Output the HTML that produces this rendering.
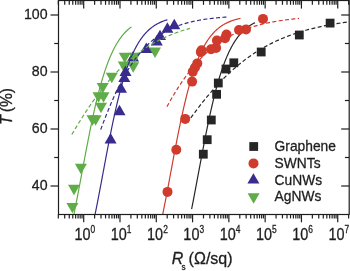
<!DOCTYPE html><html><head><meta charset="utf-8"><style>html,body{margin:0;padding:0;background:#fff;overflow:hidden}svg{display:block;will-change:transform}</style></head><body><svg width="350" height="271" viewBox="0 0 350 271">
<defs><clipPath id="pc"><rect x="58.5" y="0.5" width="290.7" height="214"/></clipPath></defs>
<rect width="350" height="271" fill="#fff"/>
<g clip-path="url(#pc)" fill="none" stroke-width="1.2"><path d="M191.60,209.13 L192.02,207.00 L192.45,204.86 L192.87,202.70 L193.29,200.52 L193.71,198.33 L194.14,196.13 L194.56,193.91 L194.98,191.69 L195.40,189.46 L195.83,187.22 L196.25,184.97 L196.67,182.72 L197.09,180.46 L197.52,178.20 L197.94,175.94 L198.36,173.67 L198.79,171.41 L199.21,169.14 L199.63,166.88 L200.05,164.62 L200.48,162.37 L200.90,160.12 L201.32,157.88 L201.74,155.64 L202.17,153.41 L202.59,151.19 L203.01,148.99 L203.43,146.79 L203.86,144.60 L204.28,142.43 L204.70,140.27 L205.13,138.12 L205.55,135.99 L205.97,133.87 L206.39,131.77 L206.82,129.69 L207.24,127.63 L207.66,125.58 L208.08,123.55 L208.51,121.55 L208.93,119.56 L209.35,117.59 L209.77,115.65 L210.20,113.72 L210.62,111.82 L211.04,109.94 L211.47,108.08 L211.89,106.25 L212.31,104.43 L212.73,102.65 L213.16,100.88 L213.58,99.14 L214.00,97.42 L214.42,95.73 L214.85,94.06 L215.27,92.42 L215.69,90.80 L216.11,89.20 L216.54,87.63 L216.96,86.09 L217.38,84.57 L217.81,83.07 L218.23,81.60 L218.65,80.15 L219.07,78.73 L219.50,77.33 L219.92,75.95 L220.34,74.60 L220.76,73.28 L221.19,71.98 L221.61,70.70 L222.03,69.44 L222.45,68.21 L222.88,67.00 L223.30,65.81 L223.72,64.65 L224.15,63.51 L224.57,62.39 L224.99,61.29 L225.41,60.22 L225.84,59.17 L226.26,58.13 L226.68,57.12 L227.10,56.13 L227.53,55.16 L227.95,54.21 L228.37,53.28 L228.79,52.37 L229.22,51.48 L229.64,50.60 L230.06,49.75 L230.49,48.91 L230.91,48.10 L231.33,47.30 L231.75,46.51 L232.18,45.75 L232.60,45.00 L233.02,44.27 L233.44,43.55 L233.87,42.85 L234.29,42.17 L234.71,41.50 L235.13,40.85 L235.56,40.21 L235.98,39.59 L236.40,38.98 L236.83,38.38 L237.25,37.80 L237.67,37.24 L238.09,36.68 L238.52,36.14 L238.94,35.61 L239.36,35.10 L239.78,34.59 L240.21,34.10 L240.63,33.62 L241.05,33.15 L241.47,32.69 L241.90,32.25 L242.32,31.81 L242.74,31.38 L243.17,30.97 L243.59,30.56 L244.01,30.17 L244.43,29.78 L244.86,29.41 L245.28,29.04 L245.70,28.68 L246.12,28.33 L246.55,27.99 L246.97,27.66 L247.39,27.34 L247.81,27.02 L248.24,26.71 L248.66,26.41 L249.08,26.12 L249.51,25.83 L249.93,25.55 L250.35,25.28 L250.77,25.02 L251.20,24.76 L251.62,24.51 L252.04,24.26 L252.46,24.02 L252.89,23.79 L253.31,23.56 L253.73,23.34 L254.15,23.12 L254.58,22.91 L255.00,22.71" stroke="#262626"/></g>
<g clip-path="url(#pc)" fill="none" stroke-width="1.2" stroke-dasharray="4 2.4"><path d="M190.80,117.94 L191.87,116.45 L192.95,114.97 L194.02,113.50 L195.10,112.04 L196.17,110.60 L197.25,109.17 L198.32,107.75 L199.40,106.35 L200.47,104.96 L201.55,103.58 L202.62,102.22 L203.70,100.87 L204.77,99.54 L205.85,98.22 L206.92,96.91 L207.99,95.62 L209.07,94.34 L210.14,93.08 L211.22,91.83 L212.29,90.59 L213.37,89.37 L214.44,88.17 L215.52,86.97 L216.59,85.80 L217.67,84.64 L218.74,83.49 L219.82,82.35 L220.89,81.23 L221.97,80.13 L223.04,79.04 L224.11,77.96 L225.19,76.90 L226.26,75.85 L227.34,74.82 L228.41,73.80 L229.49,72.79 L230.56,71.80 L231.64,70.82 L232.71,69.85 L233.79,68.90 L234.86,67.97 L235.94,67.04 L237.01,66.13 L238.09,65.24 L239.16,64.35 L240.23,63.48 L241.31,62.62 L242.38,61.78 L243.46,60.95 L244.53,60.13 L245.61,59.32 L246.68,58.53 L247.76,57.74 L248.83,56.97 L249.91,56.22 L250.98,55.47 L252.06,54.74 L253.13,54.01 L254.21,53.30 L255.28,52.60 L256.35,51.92 L257.43,51.24 L258.50,50.57 L259.58,49.92 L260.65,49.27 L261.73,48.64 L262.80,48.02 L263.88,47.41 L264.95,46.80 L266.03,46.21 L267.10,45.63 L268.18,45.06 L269.25,44.49 L270.33,43.94 L271.40,43.40 L272.47,42.86 L273.55,42.34 L274.62,41.82 L275.70,41.32 L276.77,40.82 L277.85,40.33 L278.92,39.85 L280.00,39.38 L281.07,38.91 L282.15,38.46 L283.22,38.01 L284.30,37.57 L285.37,37.14 L286.45,36.72 L287.52,36.30 L288.59,35.89 L289.67,35.49 L290.74,35.10 L291.82,34.71 L292.89,34.33 L293.97,33.96 L295.04,33.59 L296.12,33.23 L297.19,32.88 L298.27,32.53 L299.34,32.19 L300.42,31.86 L301.49,31.53 L302.57,31.21 L303.64,30.90 L304.71,30.59 L305.79,30.28 L306.86,29.98 L307.94,29.69 L309.01,29.40 L310.09,29.12 L311.16,28.85 L312.24,28.58 L313.31,28.31 L314.39,28.05 L315.46,27.79 L316.54,27.54 L317.61,27.29 L318.69,27.05 L319.76,26.82 L320.83,26.58 L321.91,26.35 L322.98,26.13 L324.06,25.91 L325.13,25.70 L326.21,25.48 L327.28,25.28 L328.36,25.07 L329.43,24.87 L330.51,24.68 L331.58,24.49 L332.66,24.30 L333.73,24.12 L334.81,23.93 L335.88,23.76 L336.95,23.58 L338.03,23.41 L339.10,23.25 L340.18,23.08 L341.25,22.92 L342.33,22.76 L343.40,22.61 L344.48,22.46 L345.55,22.31 L346.63,22.16 L347.70,22.02 L348.78,21.88 L349.85,21.74 L350.93,21.61 L352.00,21.48" stroke="#262626"/></g>
<g fill="#262626"><rect x="325.70" y="18.70" width="8.8" height="8.8"/><rect x="294.90" y="30.60" width="8.8" height="8.8"/><rect x="256.80" y="47.60" width="8.8" height="8.8"/><rect x="229.40" y="58.40" width="8.8" height="8.8"/><rect x="221.60" y="64.60" width="8.8" height="8.8"/><rect x="213.90" y="78.60" width="8.8" height="8.8"/><rect x="212.20" y="89.90" width="8.8" height="8.8"/><rect x="206.90" y="115.60" width="8.8" height="8.8"/><rect x="202.80" y="135.30" width="8.8" height="8.8"/><rect x="198.90" y="149.80" width="8.8" height="8.8"/></g>
<g fill="#cf3b2c"><circle cx="263" cy="18.9" r="5"/><circle cx="246" cy="29.4" r="5"/><circle cx="239" cy="30" r="5"/><circle cx="226.5" cy="34.6" r="5"/><circle cx="225" cy="38.3" r="5"/><circle cx="216.9" cy="40.5" r="5"/><circle cx="216.1" cy="47.9" r="5"/><circle cx="211" cy="49.3" r="5"/><circle cx="201.6" cy="50.2" r="5"/><circle cx="200.8" cy="52.1" r="5"/><circle cx="197.3" cy="63.4" r="5"/><circle cx="195" cy="67.5" r="5"/><circle cx="192.8" cy="71.6" r="5"/><circle cx="192.1" cy="81.6" r="5"/><circle cx="185.2" cy="118.9" r="5"/><circle cx="176.3" cy="149.8" r="5"/><circle cx="167.5" cy="191.9" r="5"/></g>
<path d="M127.00,61.46 L139.00,61.46 L133.00,51.07 Z" fill="#382c8c"/>
<g fill="#60ac48"><path d="M149.00,47.54 L161.00,47.54 L155.00,57.93 Z"/><path d="M128.60,52.84 L140.60,52.84 L134.60,63.23 Z"/><path d="M118.80,52.84 L130.80,52.84 L124.80,63.23 Z"/><path d="M117.80,61.54 L129.80,61.54 L123.80,71.93 Z"/><path d="M127.20,62.34 L139.20,62.34 L133.20,72.73 Z"/><path d="M105.80,72.84 L117.80,72.84 L111.80,83.23 Z"/><path d="M96.70,83.04 L108.70,83.04 L102.70,93.43 Z"/><path d="M92.50,92.24 L104.50,92.24 L98.50,102.63 Z"/><path d="M97.50,92.24 L109.50,92.24 L103.50,102.63 Z"/><path d="M95.00,102.74 L107.00,102.74 L101.00,113.13 Z"/><path d="M86.50,115.34 L98.50,115.34 L92.50,125.73 Z"/><path d="M89.60,115.34 L101.60,115.34 L95.60,125.73 Z"/><path d="M74.90,163.84 L86.90,163.84 L80.90,174.23 Z"/><path d="M68.00,184.84 L80.00,184.84 L74.00,195.23 Z"/><path d="M66.40,202.94 L78.40,202.94 L72.40,213.33 Z"/></g>
<g fill="#382c8c"><path d="M168.30,29.16 L180.30,29.16 L174.30,18.77 Z"/><path d="M161.40,32.66 L173.40,32.66 L167.40,22.27 Z"/><path d="M154.00,40.06 L166.00,40.06 L160.00,29.67 Z"/><path d="M150.80,45.46 L162.80,45.46 L156.80,35.07 Z"/><path d="M140.30,52.96 L152.30,52.96 L146.30,42.57 Z"/><path d="M119.50,75.96 L131.50,75.96 L125.50,65.57 Z"/><path d="M118.30,82.06 L130.30,82.06 L124.30,71.67 Z"/><path d="M115.00,92.76 L127.00,92.76 L121.00,82.37 Z"/><path d="M113.50,115.26 L125.50,115.26 L119.50,104.87 Z"/><path d="M104.60,143.46 L116.60,143.46 L110.60,133.07 Z"/></g>
<g clip-path="url(#pc)" fill="none" stroke-width="1.2"><path d="M155.00,248.17 L155.57,246.00 L156.14,243.76 L156.71,241.48 L157.28,239.13 L157.85,236.74 L158.42,234.29 L158.99,231.80 L159.56,229.26 L160.13,226.66 L160.70,224.03 L161.27,221.35 L161.84,218.63 L162.41,215.87 L162.98,213.07 L163.55,210.24 L164.12,207.37 L164.69,204.48 L165.26,201.56 L165.83,198.61 L166.40,195.64 L166.97,192.65 L167.54,189.64 L168.11,186.62 L168.68,183.58 L169.25,180.54 L169.82,177.49 L170.39,174.44 L170.96,171.38 L171.53,168.33 L172.10,165.28 L172.67,162.24 L173.24,159.21 L173.81,156.19 L174.38,153.19 L174.95,150.20 L175.52,147.23 L176.09,144.28 L176.66,141.35 L177.23,138.45 L177.80,135.58 L178.37,132.73 L178.94,129.92 L179.51,127.14 L180.08,124.39 L180.65,121.67 L181.22,119.00 L181.79,116.36 L182.36,113.76 L182.93,111.20 L183.50,108.67 L184.07,106.20 L184.64,103.76 L185.21,101.36 L185.78,99.01 L186.35,96.70 L186.92,94.44 L187.49,92.22 L188.06,90.05 L188.63,87.92 L189.20,85.83 L189.77,83.79 L190.34,81.80 L190.91,79.85 L191.48,77.94 L192.05,76.08 L192.62,74.26 L193.19,72.49 L193.76,70.76 L194.33,69.07 L194.90,67.42 L195.47,65.81 L196.04,64.25 L196.61,62.73 L197.18,61.25 L197.75,59.80 L198.32,58.40 L198.89,57.03 L199.46,55.70 L200.03,54.41 L200.60,53.15 L201.17,51.93 L201.74,50.75 L202.31,49.60 L202.88,48.48 L203.45,47.39 L204.02,46.34 L204.59,45.32 L205.16,44.32 L205.73,43.36 L206.30,42.43 L206.87,41.52 L207.44,40.64 L208.01,39.79 L208.58,38.97 L209.15,38.17 L209.72,37.40 L210.29,36.65 L210.86,35.92 L211.43,35.22 L212.00,34.54 L212.57,33.88 L213.14,33.24 L213.71,32.62 L214.28,32.03 L214.85,31.45 L215.42,30.89 L215.99,30.35 L216.56,29.82 L217.13,29.32 L217.70,28.83 L218.27,28.35 L218.84,27.89 L219.41,27.45 L219.98,27.02 L220.55,26.61 L221.12,26.21 L221.69,25.82 L222.26,25.45 L222.83,25.09 L223.40,24.74 L223.97,24.40 L224.54,24.08 L225.11,23.76 L225.68,23.46 L226.25,23.16 L226.82,22.88 L227.39,22.60 L227.96,22.34 L228.53,22.08 L229.10,21.84 L229.67,21.60 L230.24,21.37 L230.81,21.14 L231.38,20.93 L231.95,20.72 L232.52,20.52 L233.09,20.33 L233.66,20.14 L234.23,19.96 L234.80,19.79 L235.37,19.62 L235.94,19.46 L236.51,19.30 L237.08,19.15 L237.65,19.00 L238.22,18.86 L238.79,18.73 L239.36,18.60 L239.93,18.47 L240.50,18.35" stroke="#cf3b2c"/></g>
<g clip-path="url(#pc)" fill="none" stroke-width="1.2" stroke-dasharray="4 2.4"><path d="M167.00,106.62 L167.88,105.01 L168.76,103.42 L169.64,101.85 L170.52,100.30 L171.40,98.77 L172.28,97.25 L173.16,95.75 L174.04,94.28 L174.92,92.82 L175.80,91.38 L176.68,89.96 L177.56,88.56 L178.44,87.18 L179.32,85.82 L180.20,84.47 L181.08,83.15 L181.96,81.85 L182.84,80.56 L183.72,79.30 L184.60,78.05 L185.48,76.82 L186.36,75.61 L187.24,74.42 L188.12,73.25 L189.00,72.10 L189.88,70.96 L190.76,69.85 L191.64,68.75 L192.52,67.67 L193.40,66.61 L194.28,65.57 L195.16,64.54 L196.04,63.53 L196.92,62.54 L197.80,61.57 L198.68,60.61 L199.56,59.67 L200.44,58.75 L201.32,57.84 L202.20,56.95 L203.08,56.08 L203.96,55.22 L204.84,54.37 L205.72,53.55 L206.60,52.74 L207.48,51.94 L208.36,51.16 L209.24,50.39 L210.12,49.64 L211.00,48.90 L211.88,48.18 L212.76,47.47 L213.64,46.77 L214.52,46.09 L215.40,45.42 L216.28,44.76 L217.16,44.12 L218.04,43.49 L218.92,42.87 L219.80,42.27 L220.68,41.67 L221.56,41.09 L222.44,40.52 L223.32,39.96 L224.20,39.42 L225.08,38.88 L225.96,38.35 L226.84,37.84 L227.72,37.34 L228.60,36.84 L229.48,36.36 L230.36,35.89 L231.24,35.43 L232.12,34.97 L233.00,34.53 L233.88,34.09 L234.76,33.67 L235.64,33.25 L236.52,32.84 L237.40,32.45 L238.28,32.06 L239.16,31.67 L240.04,31.30 L240.92,30.93 L241.80,30.58 L242.68,30.23 L243.56,29.88 L244.44,29.55 L245.32,29.22 L246.20,28.90 L247.08,28.58 L247.96,28.28 L248.84,27.98 L249.72,27.68 L250.60,27.39 L251.48,27.11 L252.36,26.84 L253.24,26.57 L254.12,26.31 L255.00,26.05 L255.88,25.80 L256.76,25.55 L257.64,25.31 L258.52,25.08 L259.40,24.85 L260.28,24.62 L261.16,24.40 L262.04,24.19 L262.92,23.98 L263.80,23.77 L264.68,23.57 L265.56,23.37 L266.44,23.18 L267.32,22.99 L268.20,22.81 L269.08,22.63 L269.96,22.45 L270.84,22.28 L271.72,22.12 L272.60,21.95 L273.48,21.79 L274.36,21.64 L275.24,21.48 L276.12,21.33 L277.00,21.19 L277.88,21.04 L278.76,20.91 L279.64,20.77 L280.52,20.64 L281.40,20.51 L282.28,20.38 L283.16,20.25 L284.04,20.13 L284.92,20.01 L285.80,19.90 L286.68,19.78 L287.56,19.67 L288.44,19.57 L289.32,19.46 L290.20,19.36 L291.08,19.26 L291.96,19.16 L292.84,19.06 L293.72,18.97 L294.60,18.87 L295.48,18.78 L296.36,18.70 L297.24,18.61 L298.12,18.53 L299.00,18.44" stroke="#cf3b2c"/></g>
<g clip-path="url(#pc)" fill="none" stroke-width="1.2"><path d="M85.00,256.64 L85.55,254.77 L86.10,252.85 L86.65,250.87 L87.20,248.84 L87.75,246.76 L88.30,244.63 L88.85,242.44 L89.39,240.21 L89.94,237.92 L90.49,235.59 L91.04,233.21 L91.59,230.79 L92.14,228.32 L92.69,225.81 L93.24,223.25 L93.79,220.66 L94.34,218.03 L94.89,215.36 L95.44,212.66 L95.99,209.93 L96.54,207.16 L97.09,204.37 L97.63,201.55 L98.18,198.71 L98.73,195.85 L99.28,192.97 L99.83,190.08 L100.38,187.16 L100.93,184.24 L101.48,181.31 L102.03,178.37 L102.58,175.43 L103.13,172.49 L103.68,169.55 L104.23,166.61 L104.78,163.67 L105.33,160.75 L105.87,157.83 L106.42,154.93 L106.97,152.04 L107.52,149.16 L108.07,146.31 L108.62,143.47 L109.17,140.66 L109.72,137.87 L110.27,135.10 L110.82,132.36 L111.37,129.66 L111.92,126.98 L112.47,124.33 L113.02,121.71 L113.57,119.13 L114.11,116.59 L114.66,114.08 L115.21,111.60 L115.76,109.17 L116.31,106.77 L116.86,104.41 L117.41,102.09 L117.96,99.81 L118.51,97.57 L119.06,95.37 L119.61,93.22 L120.16,91.10 L120.71,89.03 L121.26,86.99 L121.81,85.00 L122.35,83.05 L122.90,81.14 L123.45,79.28 L124.00,77.45 L124.55,75.67 L125.10,73.93 L125.65,72.22 L126.20,70.56 L126.75,68.93 L127.30,67.35 L127.85,65.80 L128.40,64.30 L128.95,62.83 L129.50,61.40 L130.05,60.00 L130.59,58.64 L131.14,57.32 L131.69,56.03 L132.24,54.77 L132.79,53.55 L133.34,52.36 L133.89,51.21 L134.44,50.09 L134.99,48.99 L135.54,47.93 L136.09,46.90 L136.64,45.90 L137.19,44.92 L137.74,43.98 L138.29,43.06 L138.83,42.17 L139.38,41.30 L139.93,40.46 L140.48,39.65 L141.03,38.86 L141.58,38.09 L142.13,37.35 L142.68,36.63 L143.23,35.93 L143.78,35.25 L144.33,34.59 L144.88,33.95 L145.43,33.34 L145.98,32.74 L146.53,32.16 L147.07,31.60 L147.62,31.05 L148.17,30.53 L148.72,30.01 L149.27,29.52 L149.82,29.04 L150.37,28.58 L150.92,28.13 L151.47,27.69 L152.02,27.27 L152.57,26.87 L153.12,26.47 L153.67,26.09 L154.22,25.72 L154.77,25.36 L155.31,25.02 L155.86,24.68 L156.41,24.36 L156.96,24.05 L157.51,23.75 L158.06,23.45 L158.61,23.17 L159.16,22.90 L159.71,22.63 L160.26,22.37 L160.81,22.13 L161.36,21.89 L161.91,21.65 L162.46,21.43 L163.01,21.21 L163.55,21.00 L164.10,20.80 L164.65,20.61 L165.20,20.42 L165.75,20.23 L166.30,20.06 L166.85,19.89 L167.40,19.72" stroke="#382c8c"/></g>
<g clip-path="url(#pc)" fill="none" stroke-width="1.2" stroke-dasharray="4 2.4"><path d="M100.70,129.63 L101.55,127.34 L102.40,125.08 L103.25,122.84 L104.09,120.62 L104.94,118.43 L105.79,116.26 L106.64,114.13 L107.49,112.01 L108.34,109.93 L109.19,107.87 L110.04,105.84 L110.88,103.84 L111.73,101.87 L112.58,99.92 L113.43,98.01 L114.28,96.13 L115.13,94.27 L115.98,92.45 L116.82,90.65 L117.67,88.89 L118.52,87.16 L119.37,85.45 L120.22,83.78 L121.07,82.14 L121.92,80.52 L122.77,78.94 L123.61,77.39 L124.46,75.87 L125.31,74.37 L126.16,72.91 L127.01,71.47 L127.86,70.07 L128.71,68.69 L129.55,67.34 L130.40,66.02 L131.25,64.73 L132.10,63.46 L132.95,62.23 L133.80,61.02 L134.65,59.83 L135.50,58.67 L136.34,57.54 L137.19,56.44 L138.04,55.35 L138.89,54.30 L139.74,53.27 L140.59,52.26 L141.44,51.27 L142.28,50.31 L143.13,49.37 L143.98,48.46 L144.83,47.56 L145.68,46.69 L146.53,45.84 L147.38,45.01 L148.23,44.20 L149.07,43.41 L149.92,42.64 L150.77,41.89 L151.62,41.15 L152.47,40.44 L153.32,39.74 L154.17,39.07 L155.01,38.41 L155.86,37.76 L156.71,37.13 L157.56,36.52 L158.41,35.93 L159.26,35.35 L160.11,34.78 L160.96,34.23 L161.80,33.70 L162.65,33.18 L163.50,32.67 L164.35,32.18 L165.20,31.70 L166.05,31.23 L166.90,30.77 L167.74,30.33 L168.59,29.90 L169.44,29.48 L170.29,29.07 L171.14,28.67 L171.99,28.29 L172.84,27.91 L173.69,27.55 L174.53,27.19 L175.38,26.84 L176.23,26.51 L177.08,26.18 L177.93,25.86 L178.78,25.55 L179.63,25.25 L180.47,24.96 L181.32,24.68 L182.17,24.40 L183.02,24.13 L183.87,23.87 L184.72,23.62 L185.57,23.37 L186.42,23.13 L187.26,22.90 L188.11,22.67 L188.96,22.45 L189.81,22.24 L190.66,22.03 L191.51,21.83 L192.36,21.63 L193.20,21.44 L194.05,21.25 L194.90,21.07 L195.75,20.90 L196.60,20.73 L197.45,20.56 L198.30,20.40 L199.15,20.25 L199.99,20.09 L200.84,19.95 L201.69,19.80 L202.54,19.66 L203.39,19.53 L204.24,19.40 L205.09,19.27 L205.93,19.15 L206.78,19.03 L207.63,18.91 L208.48,18.80 L209.33,18.69 L210.18,18.58 L211.03,18.48 L211.88,18.38 L212.72,18.28 L213.57,18.18 L214.42,18.09 L215.27,18.00 L216.12,17.91 L216.97,17.83 L217.82,17.75 L218.66,17.67 L219.51,17.59 L220.36,17.51 L221.21,17.44 L222.06,17.37 L222.91,17.30 L223.76,17.23 L224.61,17.17 L225.45,17.11 L226.30,17.04 L227.15,16.98 L228.00,16.93" stroke="#382c8c"/></g>
<g clip-path="url(#pc)" fill="none" stroke-width="1.2"><path d="M55.00,279.63 L55.51,278.64 L56.02,277.62 L56.53,276.56 L57.04,275.46 L57.55,274.32 L58.06,273.14 L58.57,271.91 L59.07,270.65 L59.58,269.34 L60.09,267.98 L60.60,266.58 L61.11,265.14 L61.62,263.65 L62.13,262.12 L62.64,260.54 L63.15,258.92 L63.66,257.25 L64.17,255.53 L64.68,253.77 L65.19,251.96 L65.70,250.11 L66.21,248.21 L66.71,246.27 L67.22,244.28 L67.73,242.25 L68.24,240.18 L68.75,238.06 L69.26,235.90 L69.77,233.70 L70.28,231.47 L70.79,229.19 L71.30,226.88 L71.81,224.53 L72.32,222.14 L72.83,219.72 L73.34,217.27 L73.85,214.79 L74.35,212.28 L74.86,209.74 L75.37,207.18 L75.88,204.59 L76.39,201.98 L76.90,199.35 L77.41,196.70 L77.92,194.04 L78.43,191.36 L78.94,188.67 L79.45,185.96 L79.96,183.25 L80.47,180.53 L80.98,177.81 L81.49,175.08 L81.99,172.35 L82.50,169.62 L83.01,166.90 L83.52,164.18 L84.03,161.46 L84.54,158.75 L85.05,156.06 L85.56,153.37 L86.07,150.70 L86.58,148.04 L87.09,145.40 L87.60,142.77 L88.11,140.17 L88.62,137.59 L89.13,135.02 L89.63,132.49 L90.14,129.97 L90.65,127.48 L91.16,125.02 L91.67,122.59 L92.18,120.18 L92.69,117.81 L93.20,115.46 L93.71,113.15 L94.22,110.87 L94.73,108.62 L95.24,106.40 L95.75,104.22 L96.26,102.07 L96.77,99.95 L97.27,97.87 L97.78,95.83 L98.29,93.82 L98.80,91.85 L99.31,89.91 L99.82,88.01 L100.33,86.14 L100.84,84.31 L101.35,82.51 L101.86,80.75 L102.37,79.03 L102.88,77.34 L103.39,75.69 L103.90,74.07 L104.41,72.49 L104.91,70.94 L105.42,69.42 L105.93,67.94 L106.44,66.49 L106.95,65.08 L107.46,63.69 L107.97,62.34 L108.48,61.03 L108.99,59.74 L109.50,58.49 L110.01,57.26 L110.52,56.07 L111.03,54.90 L111.54,53.76 L112.05,52.66 L112.55,51.58 L113.06,50.52 L113.57,49.50 L114.08,48.50 L114.59,47.53 L115.10,46.58 L115.61,45.66 L116.12,44.76 L116.63,43.89 L117.14,43.04 L117.65,42.21 L118.16,41.41 L118.67,40.63 L119.18,39.87 L119.69,39.13 L120.19,38.41 L120.70,37.71 L121.21,37.03 L121.72,36.37 L122.23,35.73 L122.74,35.10 L123.25,34.50 L123.76,33.91 L124.27,33.33 L124.78,32.78 L125.29,32.24 L125.80,31.72 L126.31,31.21 L126.82,30.71 L127.33,30.23 L127.83,29.77 L128.34,29.32 L128.85,28.88 L129.36,28.45 L129.87,28.04 L130.38,27.64 L130.89,27.25 L131.40,26.87" stroke="#60ac48"/></g>
<g clip-path="url(#pc)" fill="none" stroke-width="1.2" stroke-dasharray="4 2.4"><path d="M71.80,134.52 L72.59,133.19 L73.37,131.86 L74.16,130.53 L74.95,129.22 L75.74,127.91 L76.52,126.61 L77.31,125.31 L78.10,124.03 L78.89,122.75 L79.67,121.48 L80.46,120.21 L81.25,118.96 L82.04,117.71 L82.82,116.48 L83.61,115.25 L84.40,114.03 L85.18,112.82 L85.97,111.61 L86.76,110.42 L87.55,109.23 L88.33,108.06 L89.12,106.89 L89.91,105.73 L90.70,104.59 L91.48,103.45 L92.27,102.32 L93.06,101.20 L93.85,100.09 L94.63,98.99 L95.42,97.90 L96.21,96.82 L96.99,95.75 L97.78,94.69 L98.57,93.64 L99.36,92.59 L100.14,91.56 L100.93,90.54 L101.72,89.53 L102.51,88.53 L103.29,87.53 L104.08,86.55 L104.87,85.58 L105.66,84.62 L106.44,83.66 L107.23,82.72 L108.02,81.79 L108.80,80.87 L109.59,79.95 L110.38,79.05 L111.17,78.16 L111.95,77.27 L112.74,76.40 L113.53,75.53 L114.32,74.68 L115.10,73.84 L115.89,73.00 L116.68,72.17 L117.47,71.36 L118.25,70.55 L119.04,69.75 L119.83,68.97 L120.61,68.19 L121.40,67.42 L122.19,66.66 L122.98,65.91 L123.76,65.17 L124.55,64.43 L125.34,63.71 L126.13,63.00 L126.91,62.29 L127.70,61.59 L128.49,60.90 L129.28,60.22 L130.06,59.55 L130.85,58.89 L131.64,58.24 L132.42,57.59 L133.21,56.96 L134.00,56.33 L134.79,55.71 L135.57,55.09 L136.36,54.49 L137.15,53.89 L137.94,53.31 L138.72,52.73 L139.51,52.15 L140.30,51.59 L141.09,51.03 L141.87,50.48 L142.66,49.94 L143.45,49.40 L144.23,48.88 L145.02,48.36 L145.81,47.84 L146.60,47.34 L147.38,46.84 L148.17,46.35 L148.96,45.86 L149.75,45.38 L150.53,44.91 L151.32,44.45 L152.11,43.99 L152.90,43.54 L153.68,43.09 L154.47,42.65 L155.26,42.22 L156.04,41.80 L156.83,41.38 L157.62,40.96 L158.41,40.55 L159.19,40.15 L159.98,39.75 L160.77,39.36 L161.56,38.98 L162.34,38.60 L163.13,38.23 L163.92,37.86 L164.71,37.50 L165.49,37.14 L166.28,36.79 L167.07,36.44 L167.85,36.10 L168.64,35.76 L169.43,35.43 L170.22,35.11 L171.00,34.79 L171.79,34.47 L172.58,34.16 L173.37,33.85 L174.15,33.55 L174.94,33.25 L175.73,32.96 L176.52,32.67 L177.30,32.39 L178.09,32.11 L178.88,31.83 L179.66,31.56 L180.45,31.29 L181.24,31.03 L182.03,30.77 L182.81,30.51 L183.60,30.26 L184.39,30.02 L185.18,29.77 L185.96,29.53 L186.75,29.30 L187.54,29.06 L188.33,28.84 L189.11,28.61 L189.90,28.39" stroke="#60ac48"/></g>
<g stroke="#1e1e1e" stroke-width="1.2"><rect x="58.5" y="0.5" width="290.7" height="214" fill="none" stroke-width="1.2"/><line x1="50.5" y1="186.0" x2="58.5" y2="186.0"/><line x1="341.2" y1="186.0" x2="349.2" y2="186.0"/><line x1="54.2" y1="157.5" x2="58.5" y2="157.5"/><line x1="344.9" y1="157.5" x2="349.2" y2="157.5"/><line x1="50.5" y1="129.0" x2="58.5" y2="129.0"/><line x1="341.2" y1="129.0" x2="349.2" y2="129.0"/><line x1="54.2" y1="100.5" x2="58.5" y2="100.5"/><line x1="344.9" y1="100.5" x2="349.2" y2="100.5"/><line x1="50.5" y1="72.0" x2="58.5" y2="72.0"/><line x1="341.2" y1="72.0" x2="349.2" y2="72.0"/><line x1="54.2" y1="43.5" x2="58.5" y2="43.5"/><line x1="344.9" y1="43.5" x2="349.2" y2="43.5"/><line x1="50.5" y1="15.0" x2="58.5" y2="15.0"/><line x1="341.2" y1="15.0" x2="349.2" y2="15.0"/><line x1="58.33" y1="214.5" x2="58.33" y2="218.4"/><line x1="58.33" y1="0.5" x2="58.33" y2="4.8"/><line x1="64.72" y1="214.5" x2="64.72" y2="218.4"/><line x1="64.72" y1="0.5" x2="64.72" y2="4.8"/><line x1="69.26" y1="214.5" x2="69.26" y2="218.4"/><line x1="69.26" y1="0.5" x2="69.26" y2="4.8"/><line x1="72.78" y1="214.5" x2="72.78" y2="218.4"/><line x1="72.78" y1="0.5" x2="72.78" y2="4.8"/><line x1="75.65" y1="214.5" x2="75.65" y2="218.4"/><line x1="75.65" y1="0.5" x2="75.65" y2="4.8"/><line x1="78.08" y1="214.5" x2="78.08" y2="218.4"/><line x1="78.08" y1="0.5" x2="78.08" y2="4.8"/><line x1="80.18" y1="214.5" x2="80.18" y2="218.4"/><line x1="80.18" y1="0.5" x2="80.18" y2="4.8"/><line x1="82.04" y1="214.5" x2="82.04" y2="218.4"/><line x1="82.04" y1="0.5" x2="82.04" y2="4.8"/><line x1="83.70" y1="214.5" x2="83.70" y2="222.3"/><line x1="83.70" y1="0.5" x2="83.70" y2="8.6"/><line x1="94.62" y1="214.5" x2="94.62" y2="218.4"/><line x1="94.62" y1="0.5" x2="94.62" y2="4.8"/><line x1="101.01" y1="214.5" x2="101.01" y2="218.4"/><line x1="101.01" y1="0.5" x2="101.01" y2="4.8"/><line x1="105.55" y1="214.5" x2="105.55" y2="218.4"/><line x1="105.55" y1="0.5" x2="105.55" y2="4.8"/><line x1="109.07" y1="214.5" x2="109.07" y2="218.4"/><line x1="109.07" y1="0.5" x2="109.07" y2="4.8"/><line x1="111.94" y1="214.5" x2="111.94" y2="218.4"/><line x1="111.94" y1="0.5" x2="111.94" y2="4.8"/><line x1="114.37" y1="214.5" x2="114.37" y2="218.4"/><line x1="114.37" y1="0.5" x2="114.37" y2="4.8"/><line x1="116.47" y1="214.5" x2="116.47" y2="218.4"/><line x1="116.47" y1="0.5" x2="116.47" y2="4.8"/><line x1="118.33" y1="214.5" x2="118.33" y2="218.4"/><line x1="118.33" y1="0.5" x2="118.33" y2="4.8"/><line x1="119.99" y1="214.5" x2="119.99" y2="222.3"/><line x1="119.99" y1="0.5" x2="119.99" y2="8.6"/><line x1="130.91" y1="214.5" x2="130.91" y2="218.4"/><line x1="130.91" y1="0.5" x2="130.91" y2="4.8"/><line x1="137.30" y1="214.5" x2="137.30" y2="218.4"/><line x1="137.30" y1="0.5" x2="137.30" y2="4.8"/><line x1="141.84" y1="214.5" x2="141.84" y2="218.4"/><line x1="141.84" y1="0.5" x2="141.84" y2="4.8"/><line x1="145.36" y1="214.5" x2="145.36" y2="218.4"/><line x1="145.36" y1="0.5" x2="145.36" y2="4.8"/><line x1="148.23" y1="214.5" x2="148.23" y2="218.4"/><line x1="148.23" y1="0.5" x2="148.23" y2="4.8"/><line x1="150.66" y1="214.5" x2="150.66" y2="218.4"/><line x1="150.66" y1="0.5" x2="150.66" y2="4.8"/><line x1="152.76" y1="214.5" x2="152.76" y2="218.4"/><line x1="152.76" y1="0.5" x2="152.76" y2="4.8"/><line x1="154.62" y1="214.5" x2="154.62" y2="218.4"/><line x1="154.62" y1="0.5" x2="154.62" y2="4.8"/><line x1="156.28" y1="214.5" x2="156.28" y2="222.3"/><line x1="156.28" y1="0.5" x2="156.28" y2="8.6"/><line x1="167.20" y1="214.5" x2="167.20" y2="218.4"/><line x1="167.20" y1="0.5" x2="167.20" y2="4.8"/><line x1="173.59" y1="214.5" x2="173.59" y2="218.4"/><line x1="173.59" y1="0.5" x2="173.59" y2="4.8"/><line x1="178.13" y1="214.5" x2="178.13" y2="218.4"/><line x1="178.13" y1="0.5" x2="178.13" y2="4.8"/><line x1="181.65" y1="214.5" x2="181.65" y2="218.4"/><line x1="181.65" y1="0.5" x2="181.65" y2="4.8"/><line x1="184.52" y1="214.5" x2="184.52" y2="218.4"/><line x1="184.52" y1="0.5" x2="184.52" y2="4.8"/><line x1="186.95" y1="214.5" x2="186.95" y2="218.4"/><line x1="186.95" y1="0.5" x2="186.95" y2="4.8"/><line x1="189.05" y1="214.5" x2="189.05" y2="218.4"/><line x1="189.05" y1="0.5" x2="189.05" y2="4.8"/><line x1="190.91" y1="214.5" x2="190.91" y2="218.4"/><line x1="190.91" y1="0.5" x2="190.91" y2="4.8"/><line x1="192.57" y1="214.5" x2="192.57" y2="222.3"/><line x1="192.57" y1="0.5" x2="192.57" y2="8.6"/><line x1="203.49" y1="214.5" x2="203.49" y2="218.4"/><line x1="203.49" y1="0.5" x2="203.49" y2="4.8"/><line x1="209.88" y1="214.5" x2="209.88" y2="218.4"/><line x1="209.88" y1="0.5" x2="209.88" y2="4.8"/><line x1="214.42" y1="214.5" x2="214.42" y2="218.4"/><line x1="214.42" y1="0.5" x2="214.42" y2="4.8"/><line x1="217.94" y1="214.5" x2="217.94" y2="218.4"/><line x1="217.94" y1="0.5" x2="217.94" y2="4.8"/><line x1="220.81" y1="214.5" x2="220.81" y2="218.4"/><line x1="220.81" y1="0.5" x2="220.81" y2="4.8"/><line x1="223.24" y1="214.5" x2="223.24" y2="218.4"/><line x1="223.24" y1="0.5" x2="223.24" y2="4.8"/><line x1="225.34" y1="214.5" x2="225.34" y2="218.4"/><line x1="225.34" y1="0.5" x2="225.34" y2="4.8"/><line x1="227.20" y1="214.5" x2="227.20" y2="218.4"/><line x1="227.20" y1="0.5" x2="227.20" y2="4.8"/><line x1="228.86" y1="214.5" x2="228.86" y2="222.3"/><line x1="228.86" y1="0.5" x2="228.86" y2="8.6"/><line x1="239.78" y1="214.5" x2="239.78" y2="218.4"/><line x1="239.78" y1="0.5" x2="239.78" y2="4.8"/><line x1="246.17" y1="214.5" x2="246.17" y2="218.4"/><line x1="246.17" y1="0.5" x2="246.17" y2="4.8"/><line x1="250.71" y1="214.5" x2="250.71" y2="218.4"/><line x1="250.71" y1="0.5" x2="250.71" y2="4.8"/><line x1="254.23" y1="214.5" x2="254.23" y2="218.4"/><line x1="254.23" y1="0.5" x2="254.23" y2="4.8"/><line x1="257.10" y1="214.5" x2="257.10" y2="218.4"/><line x1="257.10" y1="0.5" x2="257.10" y2="4.8"/><line x1="259.53" y1="214.5" x2="259.53" y2="218.4"/><line x1="259.53" y1="0.5" x2="259.53" y2="4.8"/><line x1="261.63" y1="214.5" x2="261.63" y2="218.4"/><line x1="261.63" y1="0.5" x2="261.63" y2="4.8"/><line x1="263.49" y1="214.5" x2="263.49" y2="218.4"/><line x1="263.49" y1="0.5" x2="263.49" y2="4.8"/><line x1="265.15" y1="214.5" x2="265.15" y2="222.3"/><line x1="265.15" y1="0.5" x2="265.15" y2="8.6"/><line x1="276.07" y1="214.5" x2="276.07" y2="218.4"/><line x1="276.07" y1="0.5" x2="276.07" y2="4.8"/><line x1="282.46" y1="214.5" x2="282.46" y2="218.4"/><line x1="282.46" y1="0.5" x2="282.46" y2="4.8"/><line x1="287.00" y1="214.5" x2="287.00" y2="218.4"/><line x1="287.00" y1="0.5" x2="287.00" y2="4.8"/><line x1="290.52" y1="214.5" x2="290.52" y2="218.4"/><line x1="290.52" y1="0.5" x2="290.52" y2="4.8"/><line x1="293.39" y1="214.5" x2="293.39" y2="218.4"/><line x1="293.39" y1="0.5" x2="293.39" y2="4.8"/><line x1="295.82" y1="214.5" x2="295.82" y2="218.4"/><line x1="295.82" y1="0.5" x2="295.82" y2="4.8"/><line x1="297.92" y1="214.5" x2="297.92" y2="218.4"/><line x1="297.92" y1="0.5" x2="297.92" y2="4.8"/><line x1="299.78" y1="214.5" x2="299.78" y2="218.4"/><line x1="299.78" y1="0.5" x2="299.78" y2="4.8"/><line x1="301.44" y1="214.5" x2="301.44" y2="222.3"/><line x1="301.44" y1="0.5" x2="301.44" y2="8.6"/><line x1="312.36" y1="214.5" x2="312.36" y2="218.4"/><line x1="312.36" y1="0.5" x2="312.36" y2="4.8"/><line x1="318.75" y1="214.5" x2="318.75" y2="218.4"/><line x1="318.75" y1="0.5" x2="318.75" y2="4.8"/><line x1="323.29" y1="214.5" x2="323.29" y2="218.4"/><line x1="323.29" y1="0.5" x2="323.29" y2="4.8"/><line x1="326.81" y1="214.5" x2="326.81" y2="218.4"/><line x1="326.81" y1="0.5" x2="326.81" y2="4.8"/><line x1="329.68" y1="214.5" x2="329.68" y2="218.4"/><line x1="329.68" y1="0.5" x2="329.68" y2="4.8"/><line x1="332.11" y1="214.5" x2="332.11" y2="218.4"/><line x1="332.11" y1="0.5" x2="332.11" y2="4.8"/><line x1="334.21" y1="214.5" x2="334.21" y2="218.4"/><line x1="334.21" y1="0.5" x2="334.21" y2="4.8"/><line x1="336.07" y1="214.5" x2="336.07" y2="218.4"/><line x1="336.07" y1="0.5" x2="336.07" y2="4.8"/><line x1="337.73" y1="214.5" x2="337.73" y2="222.3"/><line x1="337.73" y1="0.5" x2="337.73" y2="8.6"/><line x1="348.65" y1="214.5" x2="348.65" y2="218.4"/><line x1="348.65" y1="0.5" x2="348.65" y2="4.8"/></g>
<g font-family="Liberation Sans" stroke="#1e1e1e" stroke-width="0.3" font-size="15.4" fill="#1e1e1e"><text transform="translate(47.6,190.20) scale(0.92,1)" text-anchor="end">40</text><text transform="translate(47.6,133.20) scale(0.92,1)" text-anchor="end">60</text><text transform="translate(47.6,76.20) scale(0.92,1)" text-anchor="end">80</text><text transform="translate(47.6,19.20) scale(0.92,1)" text-anchor="end">100</text><text transform="translate(74.50,239.6) scale(0.84,1)" font-size="17.2">10<tspan font-size="10" dy="-6.6">0</tspan></text><text transform="translate(110.79,239.6) scale(0.84,1)" font-size="17.2">10<tspan font-size="10" dy="-6.6">1</tspan></text><text transform="translate(147.08,239.6) scale(0.84,1)" font-size="17.2">10<tspan font-size="10" dy="-6.6">2</tspan></text><text transform="translate(183.37,239.6) scale(0.84,1)" font-size="17.2">10<tspan font-size="10" dy="-6.6">3</tspan></text><text transform="translate(219.66,239.6) scale(0.84,1)" font-size="17.2">10<tspan font-size="10" dy="-6.6">4</tspan></text><text transform="translate(255.95,239.6) scale(0.84,1)" font-size="17.2">10<tspan font-size="10" dy="-6.6">5</tspan></text><text transform="translate(292.24,239.6) scale(0.84,1)" font-size="17.2">10<tspan font-size="10" dy="-6.6">6</tspan></text><text transform="translate(328.53,239.6) scale(0.84,1)" font-size="17.2">10<tspan font-size="10" dy="-6.6">7</tspan></text></g>
<g font-family="Liberation Sans" stroke="#1e1e1e" stroke-width="0.3" fill="#1e1e1e"><text x="171.8" y="264" font-size="16" font-style="italic">R</text><text x="181.6" y="269.8" font-size="8.2">s</text><text x="188.6" y="264" font-size="16">(Ω/sq)</text></g>
<g font-family="Liberation Sans" stroke="#1e1e1e" stroke-width="0.3" font-size="16" fill="#1e1e1e"><text transform="translate(11.8,125.1) rotate(-90)" font-style="italic">T</text><text transform="translate(11.9,112.2) rotate(-90)" font-size="15.6">(%)</text></g>
<rect x="249.3" y="142.1" width="8.8" height="8.8" fill="#262626"/><circle cx="253.5" cy="163.4" r="5" fill="#cf3b2c"/><path d="M247.40,183.56 L259.40,183.56 L253.40,173.17 Z" fill="#382c8c"/><path d="M247.60,193.24 L259.60,193.24 L253.60,203.63 Z" fill="#60ac48"/><text transform="translate(274.6,151.10) scale(0.945,1)" font-family="Liberation Sans" stroke="#1e1e1e" stroke-width="0.3" font-size="14.6" fill="#1e1e1e">Graphene</text><text transform="translate(274.6,168.00) scale(0.945,1)" font-family="Liberation Sans" stroke="#1e1e1e" stroke-width="0.3" font-size="14.6" fill="#1e1e1e">SWNTs</text><text transform="translate(274.6,184.60) scale(0.945,1)" font-family="Liberation Sans" stroke="#1e1e1e" stroke-width="0.3" font-size="14.6" fill="#1e1e1e">CuNWs</text><text transform="translate(274.6,201.20) scale(0.945,1)" font-family="Liberation Sans" stroke="#1e1e1e" stroke-width="0.3" font-size="14.6" fill="#1e1e1e">AgNWs</text>
</svg></body></html>
